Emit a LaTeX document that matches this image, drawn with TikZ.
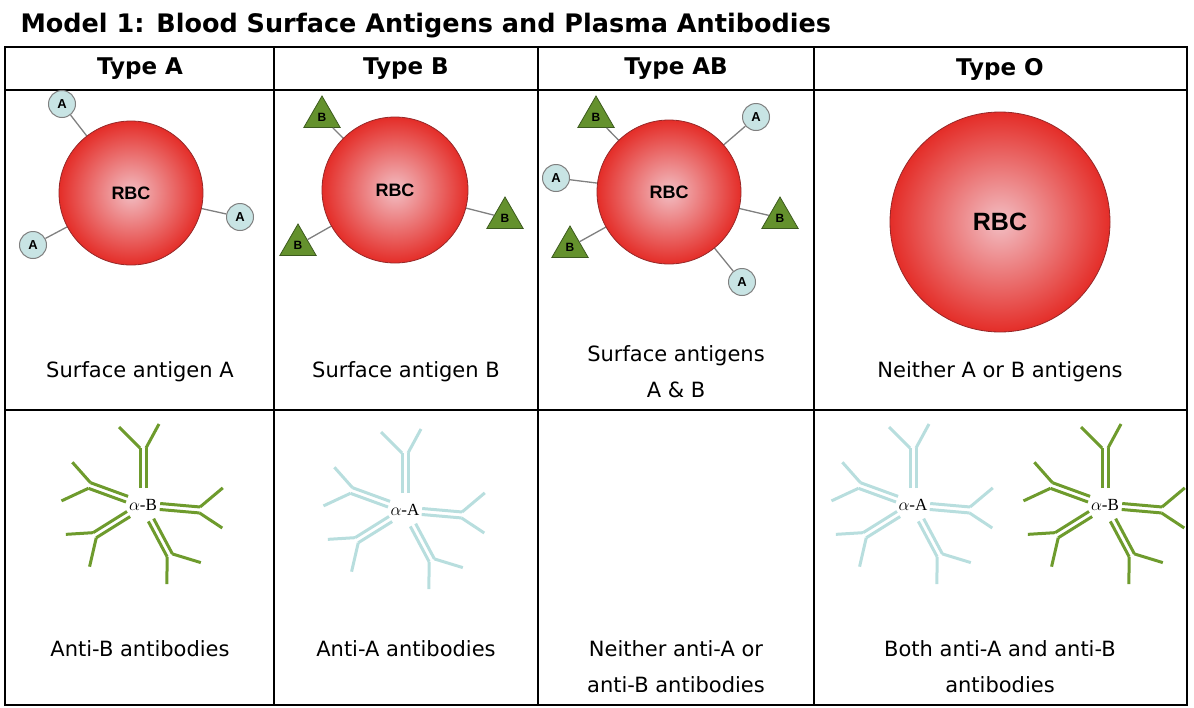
\documentclass[tikz,border=0pt]{standalone}
\usepackage{fontspec}
\setmainfont{DejaVu Sans}
\newfontfamily\arialf{Liberation Sans}
\newfontfamily\serifab{Liberation Serif}
\definecolor{agA}{RGB}{200,228,228}
\definecolor{abA}{RGB}{184,222,222}
\definecolor{agB}{RGB}{100,145,45}
\definecolor{abB}{RGB}{110,155,45}
\usetikzlibrary{shapes.geometric}
\tikzset{
  rbc/.style={draw={rgb,255:red,150;green,40;blue,40},line width=0.8pt,inner color={rgb,255:red,242;green,190;blue,195},outer color={rgb,255:red,228;green,45;blue,40}},
  antiA/.style={circle,draw=gray,fill=agA,line width=1pt,minimum size=27pt,inner sep=0pt,font=\arialf\bfseries\fontsize{13}{13}\selectfont},
  antiB/.style={regular polygon,regular polygon sides=3,draw={rgb,255:red,60;green,90;blue,30},fill=agB,line width=0.8pt,minimum size=42pt,inner sep=0pt,font=\arialf\bfseries\fontsize{12}{12}\selectfont},
  stalk/.style={draw=gray,line width=1.3pt},
  grid/.style={line width=1.3pt},
  rlab/.style={font=\arialf\bfseries\fontsize{18}{18}\selectfont},
  txt/.style={font=\fontsize{21}{36}\selectfont,align=center},
  hdr/.style={font=\bfseries\fontsize{23}{28}\selectfont},
}
\newcommand{\abody}[4]{% x y angle color
  \begin{scope}[shift={(#1,#2)},rotate=-#3,draw=#4,line width=3pt]
    \draw (17,-3)--(57,-3); \draw (17,3)--(57,3);
    \draw (57,-3)--(78,-24); \draw (57,3)--(81,16);
  \end{scope}}
\newcommand{\cluster}[4]{% x y color label
  \foreach \a in {-90,5,62,148,200} {\abody{#1}{#2}{\a}{#3}}
  \node[font=\serifab\fontsize{17}{17}\selectfont,fill=white,inner sep=1pt] (lbl#4) at (#1,#2) {$\alpha$-#4};}
\begin{document}
\begin{tikzpicture}[x=1pt,y=-1pt]
\useasboundingbox (0,0) rectangle (1194,707);
\node[anchor=west,font=\bfseries\fontsize{25.5}{28}\selectfont] (title) at (17,26) {Model 1: Blood Surface Antigens and Plasma Antibodies};
% grid
\draw[grid] (5,47) rectangle (1187,705);
\draw[grid] (5,90)--(1187,90) (5,410)--(1187,410);
\draw[grid] (274,47)--(274,705) (538,47)--(538,705) (814,47)--(814,705);
\node[hdr] (hA) at (140,69) {Type A};
\node[hdr] (hB) at (406,69) {Type B};
\node[hdr] (hAB) at (676,69) {Type AB};
\node[hdr] (hO) at (1000,69) {Type O};
% Type A
\node[antiA] (a1) at (62,104) {A};
\node[antiA] (a2) at (240,217) {A};
\node[antiA] (a3) at (33,245) {A};
\draw[stalk] (a1)--(131,193) (a2)--(131,193) (a3)--(131,193);
\shade[rbc] (131,193) circle[radius=72pt];
\node[rlab] (rA) at (131,193) {RBC};
% Type B
\node[antiB] (b1) at (322,117) {B};
\node[antiB] (b2) at (505,218) {B};
\node[antiB] (b3) at (298,245) {B};
\draw[stalk] (b1)--(395,190) (b2)--(395,190) (b3)--(395,190);
\shade[rbc] (395,190) circle[radius=73pt];
\node[rlab] (rB) at (395,190) {RBC};
% Type AB
\node[antiB] (c1) at (596,117) {B};
\node[antiA] (c2) at (756,117) {A};
\node[antiA] (c3) at (556,178) {A};
\node[antiB] (c4) at (780,218) {B};
\node[antiB] (c5) at (570,247) {B};
\node[antiA] (c6) at (742,282) {A};
\foreach \n in {c1,c2,c3,c4,c5,c6} \draw[stalk] (\n)--(669,192);
\shade[rbc] (669,192) circle[radius=72pt];
\node[rlab] (rAB) at (669,192) {RBC};
% Type O
\shade[rbc] (1000,222) circle[radius=110pt];
\node[font=\arialf\bfseries\fontsize{25}{25}\selectfont] (rO) at (1000,222) {RBC};
% row 1 text
\node[txt] (t1) at (140,372) {Surface antigen A};
\node[txt] (t2) at (406,372) {Surface antigen B};
\node[txt] (t3) at (676,372) {Surface antigens\\A \& B};
\node[txt] (t4) at (1000,372) {Neither A or B antigens};
% antibodies
\cluster{143}{505}{abB}{B}
\cluster{405}{510}{abA}{A}
\cluster{913}{505}{abA}{A}
\cluster{1105}{505}{abB}{B}
% row 2 text
\node[txt] (u1) at (140,649) {Anti-B antibodies};
\node[txt] (u2) at (406,649) {Anti-A antibodies};
\node[txt] (u3) at (676,667) {Neither anti-A or\\anti-B antibodies};
\node[txt] (u4) at (1000,667) {Both anti-A and anti-B\\antibodies};
\end{tikzpicture}
\end{document}
